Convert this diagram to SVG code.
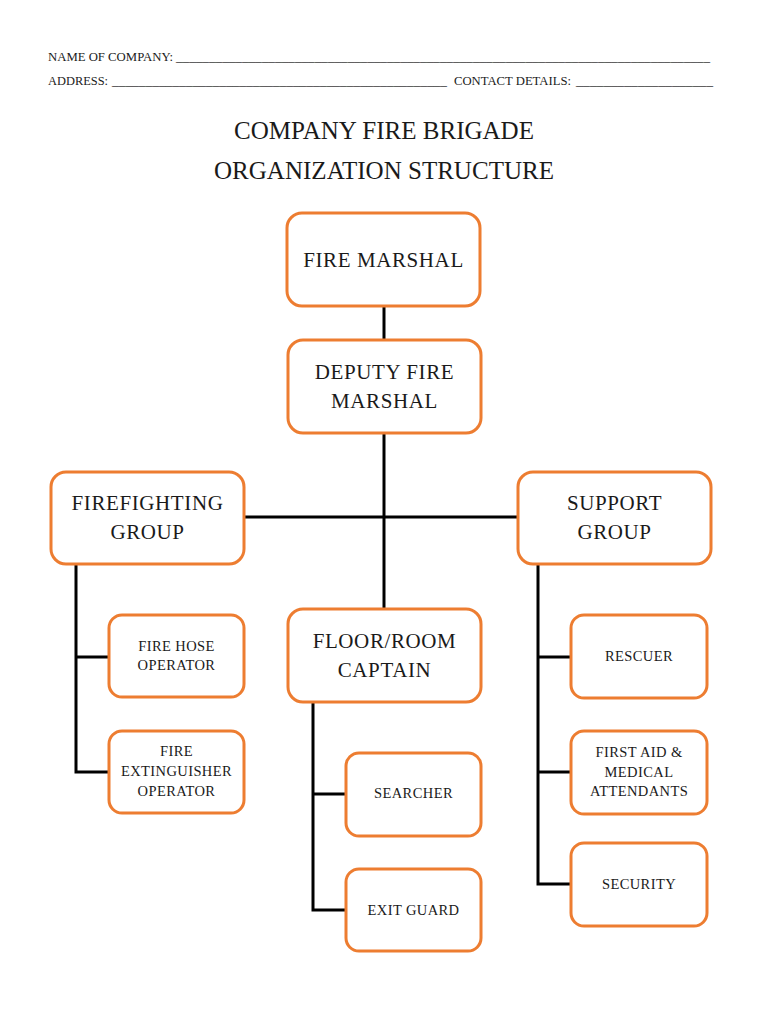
<svg xmlns="http://www.w3.org/2000/svg" width="768" height="1024" viewBox="0 0 768 1024">
<style>
.box{fill:#fff;stroke:#ED7D31;stroke-width:3}
.c{stroke:#000;stroke-width:3;fill:none}
text{font-family:"Liberation Serif","DejaVu Serif",serif;fill:#1a1a1a;text-anchor:middle}
.big{font-size:21px;letter-spacing:0.6px}
.sm{font-size:14.5px;letter-spacing:0.4px}
.hd{font-size:13px;text-anchor:start}
.t{font-size:25px}
</style>
<rect width="768" height="1024" fill="#fff"/>
<g id="header">
<text class="hd" x="48" y="61" textLength="125" lengthAdjust="spacingAndGlyphs">NAME OF COMPANY:</text>
<text class="hd" x="176" y="61" textLength="534" lengthAdjust="spacingAndGlyphs">_________________________________________________________________________________</text>
<text class="hd" x="48" y="85" textLength="60" lengthAdjust="spacingAndGlyphs">ADDRESS:</text>
<text class="hd" x="112" y="85" textLength="335" lengthAdjust="spacingAndGlyphs">__________________________________________________</text>
<text class="hd" x="454" y="85" textLength="117" lengthAdjust="spacingAndGlyphs">CONTACT DETAILS:</text>
<text class="hd" x="576" y="85" textLength="137" lengthAdjust="spacingAndGlyphs">____________________</text>
</g>
<g id="title">
<text class="t" x="384" y="139" textLength="300" lengthAdjust="spacingAndGlyphs">COMPANY FIRE BRIGADE</text>
<text class="t" x="384" y="179" textLength="340" lengthAdjust="spacingAndGlyphs">ORGANIZATION STRUCTURE</text>
</g>
<g id="connectors">
<line class="c" x1="384" y1="306" x2="384" y2="340"/>
<line class="c" x1="384" y1="433" x2="384" y2="609"/>
<line class="c" x1="244" y1="517" x2="518" y2="517"/>
<polyline class="c" points="76,564 76,772 109,772"/>
<line class="c" x1="76" y1="657" x2="109" y2="657"/>
<polyline class="c" points="313,702 313,910 346,910"/>
<line class="c" x1="313" y1="794" x2="346" y2="794"/>
<polyline class="c" points="538,564 538,884 571,884"/>
<line class="c" x1="538" y1="657" x2="571" y2="657"/>
<line class="c" x1="538" y1="772" x2="571" y2="772"/>
</g>
<g id="fire-marshal"><rect class="box" x="287" y="213" width="193" height="93" rx="15"/><text class="big" x="383.5" y="267">FIRE MARSHAL</text></g>
<g id="deputy-fire-marshal"><rect class="box" x="288" y="340" width="193" height="93" rx="15"/><text class="big" x="384.5" y="379">DEPUTY FIRE</text><text class="big" x="384.5" y="408">MARSHAL</text></g>
<g id="firefighting-group"><rect class="box" x="51" y="472" width="193" height="92" rx="15"/><text class="big" x="147.5" y="510">FIREFIGHTING</text><text class="big" x="147.5" y="539">GROUP</text></g>
<g id="support-group"><rect class="box" x="518" y="472" width="193" height="92" rx="15"/><text class="big" x="614.5" y="510">SUPPORT</text><text class="big" x="614.5" y="539">GROUP</text></g>
<g id="floor-room-captain"><rect class="box" x="288" y="609" width="193" height="93" rx="15"/><text class="big" x="384.5" y="648">FLOOR/ROOM</text><text class="big" x="384.5" y="677">CAPTAIN</text></g>
<g id="fire-hose-operator"><rect class="box" x="109" y="615" width="135" height="82" rx="13"/><text class="sm" x="176.5" y="651">FIRE HOSE</text><text class="sm" x="176.5" y="670">OPERATOR</text></g>
<g id="fire-extinguisher-operator"><rect class="box" x="109" y="731" width="135" height="82" rx="13"/><text class="sm" x="176.5" y="756">FIRE</text><text class="sm" x="176.5" y="776">EXTINGUISHER</text><text class="sm" x="176.5" y="796">OPERATOR</text></g>
<g id="searcher"><rect class="box" x="346" y="753" width="135" height="83" rx="13"/><text class="sm" x="413.5" y="798">SEARCHER</text></g>
<g id="exit-guard"><rect class="box" x="346" y="869" width="135" height="82" rx="13"/><text class="sm" x="413.5" y="915">EXIT GUARD</text></g>
<g id="rescuer"><rect class="box" x="571" y="615" width="136" height="83" rx="13"/><text class="sm" x="639" y="661">RESCUER</text></g>
<g id="first-aid"><rect class="box" x="571" y="731" width="136" height="83" rx="13"/><text class="sm" x="639" y="757">FIRST AID &amp;</text><text class="sm" x="639" y="777">MEDICAL</text><text class="sm" x="639" y="796">ATTENDANTS</text></g>
<g id="security"><rect class="box" x="571" y="843" width="136" height="83" rx="13"/><text class="sm" x="639" y="889">SECURITY</text></g>
</svg>
